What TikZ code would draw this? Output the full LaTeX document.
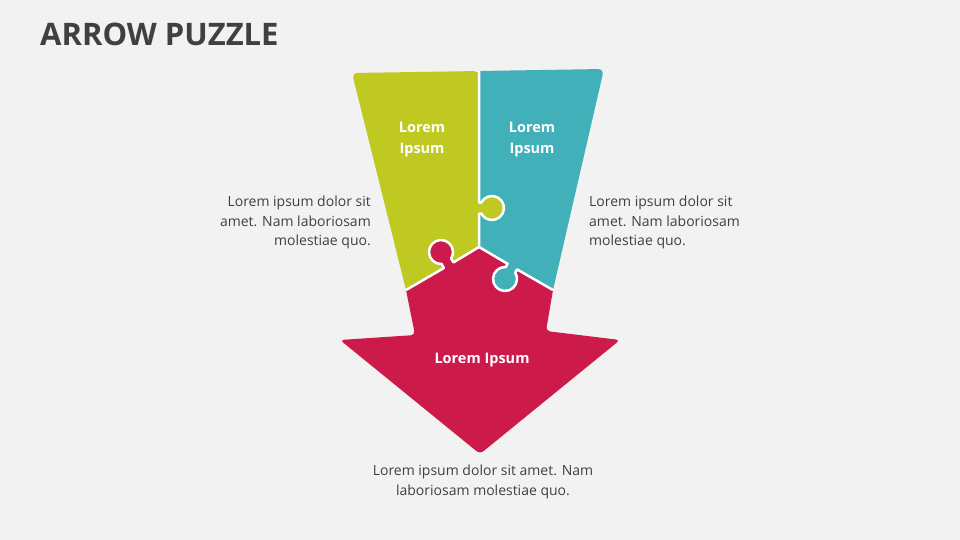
\documentclass[tikz,border=0pt]{standalone}
\usepackage{fontspec}
\setmainfont{Open Sans}
\definecolor{bgcol}{HTML}{F2F2F2}
\definecolor{leafcol}{HTML}{C0C922}
\definecolor{tealcol}{HTML}{41B0B9}
\definecolor{berrycol}{HTML}{CC1A4A}
\definecolor{inkcol}{HTML}{404040}
\tikzset{
  seam/.style={draw=white, line width=2.5pt, line join=round},
  piecelabel/.style={text=white, align=center, inner sep=0pt, font=\bfseries\fontsize{14.5}{21}\selectfont},
  note/.style={text=inkcol, inner sep=0pt, font=\fontsize{14}{19.5}\selectfont},
}

\begin{document}
\begin{tikzpicture}[x=1pt, y=-1pt]
			\fill[bgcol] (0,0) rectangle (960,540);
			\node[anchor=west, text=inkcol, inner sep=0pt, font=\bfseries\fontsize{31}{38}\selectfont] (title) at (40,34.5) {ARROW PUZZLE};
			
			% the three pieces
			\fill[leafcol] (406,290) [rounded corners=5pt] -- (352,73) -- (479,71) [sharp corners] -- (479,247) -- cycle;
			\fill[tealcol] (479,71) [rounded corners=6pt] -- (604,69) [sharp corners] -- (553,290) -- (479,247) -- cycle;
			\fill[berrycol] (406,290) -- (479,247) -- (553,290) [rounded corners=4pt] -- (546,331) -- (620,340) -- (480,454) -- (340,340) -- (415,335) [sharp corners] -- cycle;
			
			% tabs
			\fill[leafcol] (476,202.5) -- (481.3,202.5) arc[start angle=207.3, end angle=512.7, radius=12] -- (476,213.5) -- cycle;
			\fill[berrycol] (444.9,269.7) -- (441.6,264.0) arc[start angle=87.1, end angle=392.8, radius=12] -- (454.5,264.1) -- cycle;
			\fill[tealcol] (508.6,262.1) -- (505.7,267.0) arc[start angle=273.3, end angle=-32.1, radius=12] -- (518.0,267.7) -- cycle;
			
			% seams
			\draw[seam] (479,71) -- (479,202.5) -- (481.3,202.5) arc[start angle=207.3, end angle=512.7, radius=12] -- (479,213.5) -- (479,247);
			\draw[seam] (406,290) -- (443.9,268.0) -- (441.6,264.0) arc[start angle=87.1, end angle=392.8, radius=12] -- (453.5,262.4) -- (479,247);
			\draw[seam] (479,247) -- (507.6,263.8) -- (505.7,267.0) arc[start angle=273.3, end angle=-32.1, radius=12] -- (517.0,269.4) -- (553,290);
			
			\node[piecelabel] (leaflabel)  at (422,140) {Lorem\\Ipsum};
			\node[piecelabel] (teallabel)  at (532,140) {Lorem\\Ipsum};
			\node[piecelabel] (arrowlabel) at (482,360) {Lorem Ipsum};
			
			\node[note, anchor=east, align=right] (lefttext)  at (371,222.5) {Lorem ipsum dolor sit\\amet. Nam laboriosam\\molestiae quo.};
			\node[note, anchor=west, align=left]  (righttext) at (589,222.5) {Lorem ipsum dolor sit\\amet. Nam laboriosam\\molestiae quo.};
			\node[note, align=center] (bottomtext) at (483,482) {Lorem ipsum dolor sit amet. Nam\\laboriosam molestiae quo.};
		\end{tikzpicture}
\end{document}
